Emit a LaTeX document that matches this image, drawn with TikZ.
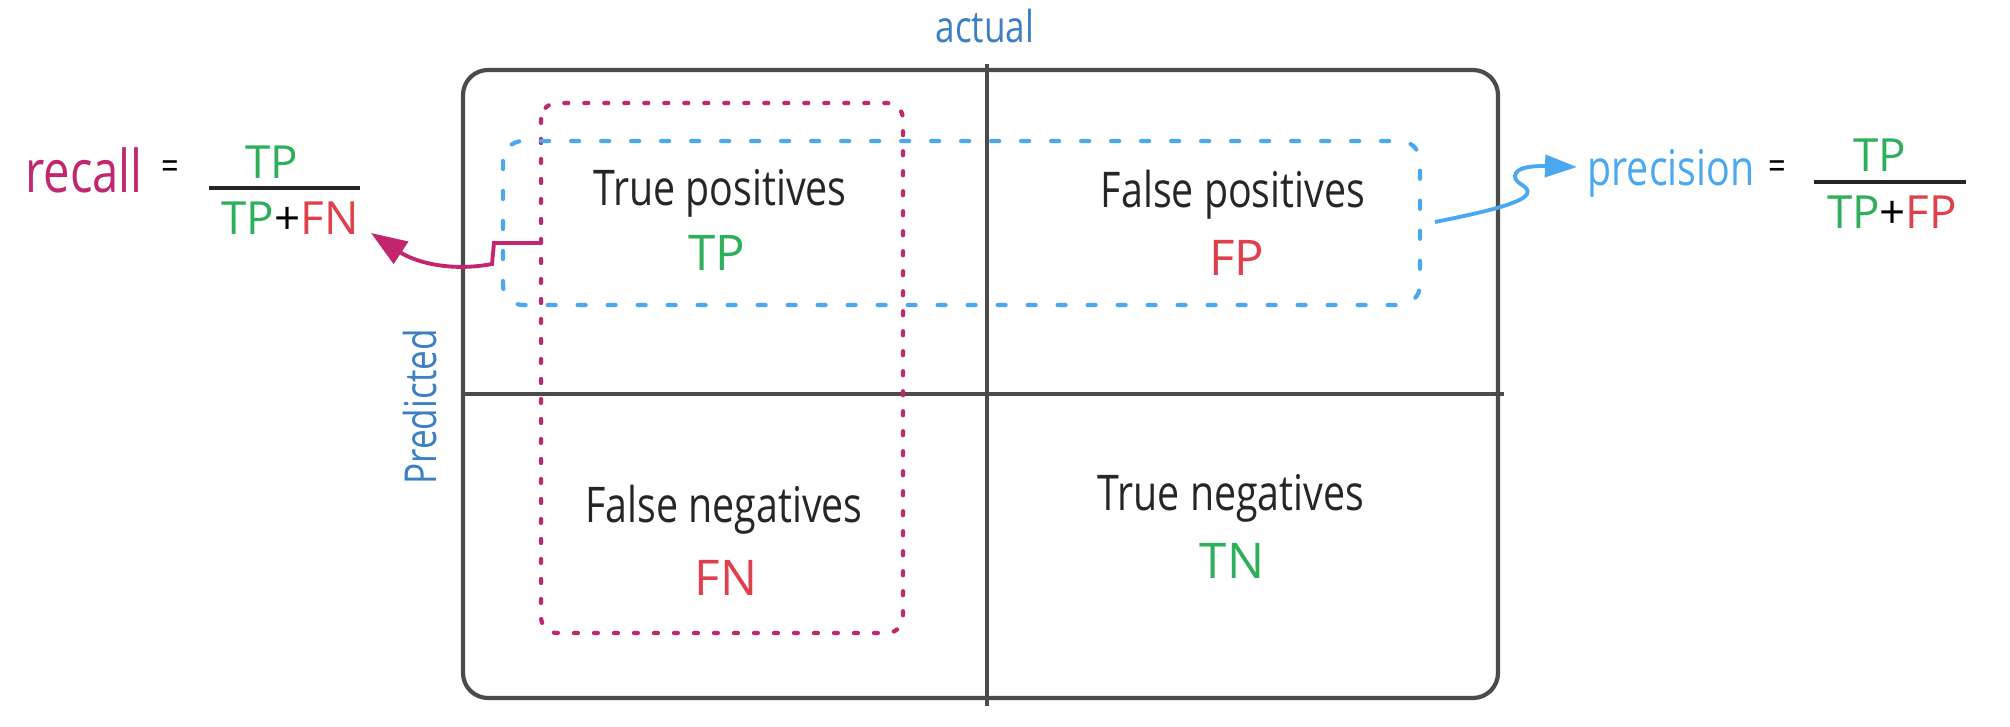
\documentclass[tikz,border=0pt]{standalone}
\usepackage{fontspec}
\setmainfont{Open Sans}[FakeStretch=0.8]
\newfontfamily\abbrfont{Open Sans}
\usepackage{xcolor}
\usetikzlibrary{arrows.meta}
\definecolor{recallpink}{RGB}{194,38,110}
\definecolor{precblue}{RGB}{74,168,240}
\definecolor{axisblue}{RGB}{60,127,196}
\definecolor{tpgreen}{RGB}{46,175,92}
\definecolor{fpred}{RGB}{224,64,76}
\definecolor{gridgray}{RGB}{75,75,75}

\begin{document}
\begin{tikzpicture}[x=0.1mm,y=-0.1mm,
            gridline/.style={gridgray, line width=1.2pt},
            cell/.style={text=black!85, font=\fontsize{14}{16}\selectfont},
            abbr/.style={font=\abbrfont\fontsize{14}{16}\selectfont},
            fracabbr/.style={font=\abbrfont\fontsize{13}{15}\selectfont},
            axislabel/.style={text=axisblue, font=\fontsize{12.5}{14}\selectfont},
            fracbar/.style={black!85, line width=1pt},
            pinkdots/.style={recallpink, line width=1.2pt, line cap=round, dash pattern=on 0.4mm off 1.6mm, rounded corners=1.6mm},
            bluedots/.style={precblue, line width=1.2pt, line cap=round, dash pattern=on 0.8mm off 2.2mm, rounded corners=2mm},
            recallarrow/.style={recallpink, line width=1.1pt, -{Triangle[length=3.6mm,width=2.6mm]}},
            precarrow/.style={precblue, line width=1.1pt, -{Triangle[length=3.2mm,width=2.2mm]}}]
            \useasboundingbox (0,0) rectangle (2010,727);
            \draw[gridline, rounded corners=2.5mm] (463,70) rectangle (1498,698);
            \coordinate (midtop) at (987,64);
            \coordinate (midbottom) at (987,706);
            \coordinate (midleft) at (463,394);
            \coordinate (midright) at (1504,394);
            \draw[gridline] (midtop) -- (midbottom);
            \draw[gridline] (midleft) -- (midright);
            \draw[pinkdots] (541,103) rectangle (903,633);
            \draw[bluedots] (503,141) rectangle (1420,305);
            \node[axislabel] (actual) at (985,26) {actual};
            \node[axislabel, rotate=90] (predicted) at (420,407) {Predicted};
            \node[cell] (tplabel) at (720,193) {True positives};
            \node[abbr, text=tpgreen] (tp) at (717,253) {TP};
            \node[cell] (fplabel) at (1233,195) {False positives};
            \node[abbr, text=fpred] (fp) at (1237,258) {FP};
            \node[cell] (fnlabel) at (724,510) {False negatives};
            \node[abbr, text=fpred] (fn) at (726,578) {FN};
            \node[cell] (tnlabel) at (1231,498) {True negatives};
            \node[abbr, text=tpgreen] (tn) at (1232,561) {TN};
            \node[text=recallpink, font=\fontsize{16.8}{18}\selectfont] (recall) at (84,170) {recall};
            \node[font=\fontsize{11}{13}\selectfont] (receq) at (170,170) {=};
            \node[fracabbr, text=tpgreen] (recnum) at (272,162) {TP};
            \node[fracabbr] (recden) at (290,218) {\textcolor{tpgreen}{TP}+\textcolor{fpred}{FN}};
            \coordinate (recbarleft) at (209,188);
            \coordinate (recbarright) at (360,188);
            \draw[fracbar] (recbarleft) -- (recbarright);
            \node[text=precblue, font=\fontsize{14}{16}\selectfont] (precision) at (1671,173) {precision};
            \node[font=\fontsize{11}{13}\selectfont] (preceq) at (1777,170) {=};
            \node[fracabbr, text=tpgreen] (precnum) at (1880,155) {TP};
            \node[fracabbr] (precden) at (1892,212) {\textcolor{tpgreen}{TP}+\textcolor{fpred}{FP}};
            \coordinate (precbarleft) at (1814,182);
            \coordinate (precbarright) at (1966,182);
            \draw[fracbar] (precbarleft) -- (precbarright);
            \coordinate (recstart) at (541,243);
            \coordinate (rectip) at (371,233);
            \draw[recallarrow] (recstart) -- (494,243) -- (492,264) .. controls (450,272) and (415,262) .. (rectip);
            \coordinate (precstart) at (1435,222);
            \coordinate (prectip) at (1577,167);
            \draw[precarrow] (precstart) .. controls (1475,214) and (1522,204) .. (1527,194) .. controls (1531,186) and (1514,184) .. (1515,176) .. controls (1516,168) and (1528,166) .. (1545,166) -- (prectip);
\end{tikzpicture}
\end{document}
